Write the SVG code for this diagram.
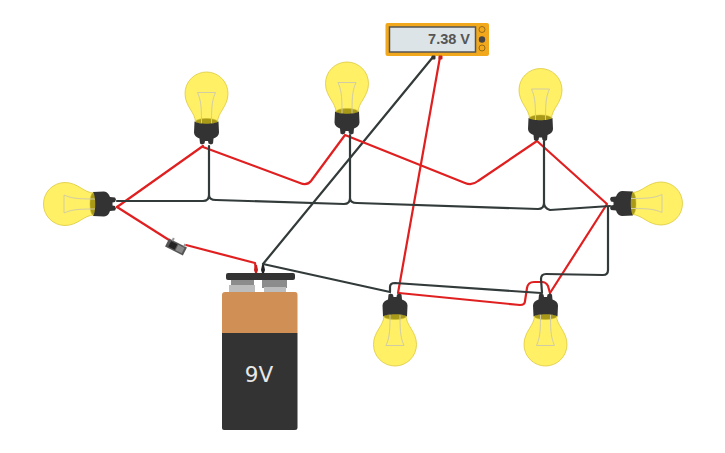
<svg xmlns="http://www.w3.org/2000/svg" width="725" height="453" viewBox="0 0 725 453">
<style>
.w{fill:none;stroke-width:2.200;stroke-linecap:round;stroke-linejoin:round}
.r{stroke:#e02020}.k{stroke:#333a3a}
.glass{fill:#fff065;stroke:#dcc93a;stroke-width:.8}
.fil{fill:none;stroke:#d2cca6;stroke-width:1}
.sock{fill:#333}
.band{fill:#a89a18;stroke:#c4b52a;stroke-width:.5}
.btn{fill:#f2a81d;stroke:#6b5418;stroke-width:.7}
</style>
<defs>
<g id="bulb">
<path class="glass" d="M-11-22C-11-32-21.500-38-21.500-51A21.500 21.500 0 0 1 21.500-51C21.500-38 11-32 11-22Z"/>
<path class="fil" d="M-9-52L9-52C6-45 5-40 5-23M-9-52C-6-45-5-40-5-23"/>
<ellipse class="band" cx="0" cy="-23" rx="11" ry="3"/>
<path class="fil" d="M5-26L5-21M-5-26L-5-21"/>
<path class="sock" d="M-12-23C-8-20 8-20 12-23L12.500-12C12.500-9 10-7 7-6L6.500-1L4.500 0L2-1L1.500-3.500L-1.500-3.500L-2-1L-4.500 0L-6.500-1L-7-6C-10-7-12.500-9-12.500-12Z"/>
</g>
</defs>
<g id="connectors">
<path class="w k" d="M433 57L263 264"/>
<path class="w r" d="M440 57L398 293"/>
<path class="w r" d="M117 207L203 146"/>
<path class="w r" d="M117 207L169 240"/>
<path class="w r" d="M186 245L255 263L256 270"/>
<path class="w r" d="M203 147L300 183Q307 186 311 181L345 135L465 183Q472 186 478 181L537 141L607 204L550 293"/>
<path class="w r" d="M399 293L520 305Q525 305 525 301L527 288Q528 282 534 282L542 282Q546 282 548 286L550 293"/>
<path class="w k" d="M117 201L203 201Q209 201 209 195L209 146M209 195Q209 200 216 200L344 204Q350 204 350 198L350 135M350 198Q350 203 357 203L538 209Q544 209 544 203L544 141M544 203Q544 208 550 210L610 206"/>
<path class="w k" d="M608 207L608 270Q608 275 603 275L546 274Q541 274 541 279L542 293"/>
<path class="w k" d="M263 264L390 292L390 287Q390 283 395 283L541 293"/>
</g>
<g id="bulb-1"><use href="#bulb" transform="translate(206.500 144.500)"/></g>
<g id="bulb-2"><use href="#bulb" transform="translate(347 134.500)"/></g>
<g id="bulb-3"><use href="#bulb" transform="translate(540.500 141)"/></g>
<g id="bulb-4"><use href="#bulb" transform="translate(116 204) rotate(-90)"/></g>
<g id="bulb-5"><use href="#bulb" transform="translate(610 203.500) rotate(90)"/></g>
<g id="bulb-6"><use href="#bulb" transform="translate(395 293.500) rotate(180)"/></g>
<g id="bulb-7"><use href="#bulb" transform="translate(545.500 293.500) rotate(180)"/></g>
<g id="switch" transform="translate(176 247) rotate(27)">
<rect x="-10" y="-4.500" width="20" height="9" fill="#555"/>
<rect x="-7" y="-3" width="7" height="6" fill="#222"/>
<rect x="1" y="-3" width="7" height="6" fill="#888"/>
<rect x="-7" y="-7" width="2" height="3" fill="#999"/>
<rect x="6" y="-7" width="2" height="3" fill="#999"/>
</g>
<g id="battery">
<rect x="231" y="280" width="23" height="6" fill="#8c8c8c"/>
<rect x="229" y="285" width="26" height="8" fill="#bcbcbc"/>
<rect x="262" y="280" width="25" height="8" fill="#8c8c8c"/>
<rect x="264" y="287" width="22" height="6" fill="#bcbcbc"/>
<rect x="226" y="273" width="69" height="7" rx="2" fill="#333"/>
<path d="M222 295Q222 292 225 292L295 292Q297.500 292 297.500 295L297.500 333L222 333Z" fill="#d08f55"/>
<path d="M222 333L297.500 333L297.500 428Q297.500 430 295 430L224 430Q222 430 222 428Z" fill="#333"/>
<path d="M255 265L257 265L258 270L257 273L255 273L254 270Z" fill="#c81e1e"/>
<path d="M262 265L264 265L265 270L264 273L262 273L261 270Z" fill="#222"/>
<text x="259" y="382" font-family="'DejaVu Sans',sans-serif" font-size="21.500" fill="#e8e8e8" text-anchor="middle">9V</text>
</g>
<g id="meter">
<rect x="385.500" y="23" width="103.500" height="33" rx="2" fill="#f2a81d"/>
<rect x="389.500" y="27" width="86" height="25" fill="#dce4e8" stroke="#555" stroke-width="1.500"/>
<text x="470" y="44" font-family="'Liberation Sans',Arial,sans-serif" font-size="14.500" font-weight="700" fill="#555" text-anchor="end">7.38 V</text>
<circle class="btn" cx="482" cy="29.500" r="3"/>
<circle cx="482" cy="39.500" r="3.200" fill="#444"/>
<circle class="btn" cx="482" cy="48" r="3"/>
<rect x="431.500" y="55.500" width="4" height="4" rx="1" fill="#333"/>
<rect x="438.500" y="55.500" width="4" height="4" rx="1" fill="#c81e1e"/>
</g>
</svg>
